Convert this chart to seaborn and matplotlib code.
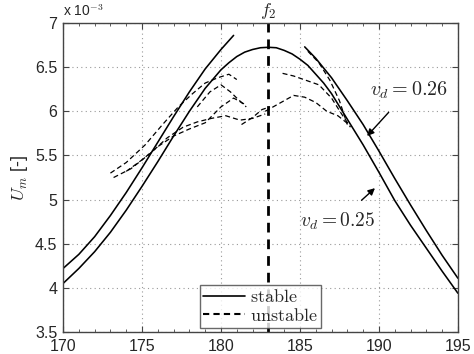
import numpy as np
import pandas as pd
import matplotlib
matplotlib.use('Agg')
import matplotlib.pyplot as plt
from matplotlib.lines import Line2D
from matplotlib.ticker import MultipleLocator, FormatStrFormatter
import seaborn as sns

# stable branch, v_d = 0.25 (continuous)
f_025 = [170, 171, 172, 173, 174, 175, 176, 177, 178, 179, 180, 180.5, 181,
         181.5, 182, 182.5, 183, 183.5, 184, 184.5, 185, 185.5, 186, 186.5,
         187, 188, 189, 190, 191, 192, 193, 194, 195]
u_025 = [4.05, 4.22, 4.41, 4.63, 4.88, 5.15, 5.43, 5.72, 6.00, 6.26, 6.47, 6.55,
         6.62, 6.67, 6.70, 6.72, 6.725, 6.72, 6.69, 6.65, 6.59, 6.52, 6.42, 6.32,
         6.20, 5.91, 5.62, 5.31, 4.99, 4.71, 4.45, 4.19, 3.94]

# stable branches, v_d = 0.26 (broken)
f_026_left = [170, 171, 172, 173, 174, 175, 176, 177, 178, 179, 180, 180.8]
u_026_left = [4.22, 4.38, 4.58, 4.82, 5.08, 5.36, 5.65, 5.94, 6.22, 6.48, 6.70, 6.86]
f_026_right = [185.3, 186, 187, 188, 189, 190, 191, 192, 193, 194, 195]
u_026_right = [6.73, 6.60, 6.38, 6.12, 5.85, 5.55, 5.24, 4.94, 4.65, 4.37, 4.11]

# unstable branches (dashed)
unstable = [
    ([173.0, 174.0, 175.2, 176.3, 177.3, 178.2, 179.0, 179.8, 180.5, 181.0],
     [5.30, 5.42, 5.62, 5.85, 6.05, 6.20, 6.32, 6.38, 6.42, 6.36]),
    ([173.2, 174.3, 175.5, 176.6, 177.6, 178.5, 179.4, 180.3, 181.2, 182.0, 182.8],
     [5.25, 5.35, 5.52, 5.70, 5.82, 5.88, 5.92, 5.95, 5.90, 5.92, 5.97]),
    ([174.0, 175.0, 176.0, 177.0, 178.0, 179.0, 180.0, 180.8, 181.5],
     [5.32, 5.45, 5.60, 5.72, 5.80, 5.87, 6.05, 6.15, 6.08]),
    ([178.5, 179.3, 180.0, 180.6, 181.0, 181.6],
     [6.05, 6.22, 6.30, 6.22, 6.15, 6.05]),
    ([182.8, 183.3, 184.0, 184.6, 185.3, 186.0, 186.7, 187.4, 188.1],
     [6.00, 6.05, 6.12, 6.18, 6.16, 6.10, 6.00, 5.95, 5.85]),
    ([183.9, 184.6, 185.4, 186.2, 187.0, 187.6, 188.2],
     [6.43, 6.40, 6.35, 6.30, 6.15, 5.98, 5.82]),
    ([185.5, 186.2, 186.9, 187.5, 188.0],
     [6.68, 6.55, 6.35, 6.12, 5.85]),
    ([181.3, 182.0, 182.6, 183.1],
     [5.85, 5.93, 6.02, 6.05]),
]

f2 = 183.0

sns.set_style('ticks')
plt.rcParams['font.family'] = ['Liberation Sans', 'DejaVu Sans']
plt.rcParams['mathtext.fontset'] = 'cm'

fig = plt.figure(figsize=(4.74, 3.54), dpi=100)
ax = fig.add_axes([0.133, 0.062, 0.833, 0.873])

for fx, uy in unstable:
    sns.lineplot(x=fx, y=uy, ax=ax, color='k', lw=0.9, ls=(0, (4, 2.5)),
                 sort=False, estimator=None)

sns.lineplot(x=f_025, y=u_025, ax=ax, color='k', lw=1.15, sort=False, estimator=None)
sns.lineplot(x=f_026_left, y=u_026_left, ax=ax, color='k', lw=1.15, sort=False, estimator=None)
sns.lineplot(x=f_026_right, y=u_026_right, ax=ax, color='k', lw=1.15, sort=False, estimator=None)

ax.axvline(f2, color='k', lw=2, ls=(0, (3.5, 2.5)))

ax.set_xlim(170, 195)
ax.set_ylim(3.5, 7)
ax.xaxis.set_major_locator(MultipleLocator(5))
ax.xaxis.set_minor_locator(MultipleLocator(1))
ax.yaxis.set_major_locator(MultipleLocator(0.5))
ax.yaxis.set_major_formatter(FormatStrFormatter('%g'))
ax.tick_params(which='both', direction='in', top=True, right=True,
               labelsize=11.5, color='#444444')
ax.tick_params(which='major', length=4)
ax.tick_params(which='minor', length=2.5)
ax.tick_params(axis='x', pad=5)
ax.tick_params(axis='y', pad=4)
ax.grid(True, which='major', ls=(0, (1, 3)), color='#999999', lw=0.8)
for s in ax.spines.values():
    s.set_color('#444444')
    s.set_linewidth(1.0)

ax.set_ylabel(r'$U_m$ [-]', fontsize=13, labelpad=4)
ax.text(170, 7.05, r'x 10$^{-3}$', fontsize=10, ha='left', va='bottom')
ax.text(f2, 7.02, r'$f_2$', fontsize=13, ha='center', va='bottom')

ax.annotate(r'$v_d = 0.26$', xy=(189.25, 5.72), xytext=(191.9, 6.24),
            fontsize=14.5, ha='center', va='center',
            arrowprops=dict(arrowstyle='-|>', color='k', lw=1,
                            shrinkA=8, shrinkB=0, mutation_scale=10))
ax.annotate(r'$v_d = 0.25$', xy=(189.75, 5.13), xytext=(187.4, 4.75),
            fontsize=14, ha='center', va='center',
            arrowprops=dict(arrowstyle='-|>', color='k', lw=1,
                            shrinkA=8, shrinkB=0, mutation_scale=10))

handles = [Line2D([], [], color='k', lw=1.2),
           Line2D([], [], color='k', lw=1.5, ls=(0, (3, 2)))]
leg = ax.legend(handles, [r'$\mathrm{stable}$', r'$\mathrm{unstable}$'],
                loc='lower center', bbox_to_anchor=(0.5, 0.012), fontsize=13,
                frameon=True, fancybox=False, handlelength=2.3,
                borderpad=0.2, labelspacing=0.1, handletextpad=0.3,
                borderaxespad=0)
leg.get_frame().set_edgecolor('#444444')
leg.get_frame().set_linewidth(1.0)

fig.savefig('out.png', dpi=100)
